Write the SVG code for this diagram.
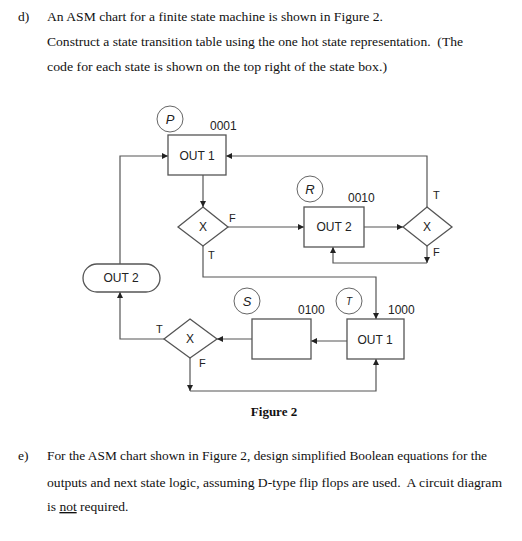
<svg xmlns="http://www.w3.org/2000/svg" width="522" height="541" viewBox="0 0 522 541">
<defs>
<marker id="ah" viewBox="0 0 10 10" refX="10" refY="5" markerWidth="6" markerHeight="6" markerUnits="userSpaceOnUse" orient="auto">
<path d="M0,0 L10,5 L0,10 z" fill="#222"/>
</marker>
</defs>
<style>
.para{font-family:"Liberation Serif","Times New Roman",serif;font-size:13.5px;fill:#111}
.lbl{font-family:"Liberation Sans",Arial,sans-serif;font-size:12px;fill:#222}
.sm{font-family:"Liberation Sans",Arial,sans-serif;font-size:11px;fill:#222}
.st{font-family:"Liberation Sans",Arial,sans-serif;font-size:13px;font-style:italic;fill:#222}
.box{fill:#fff;stroke:#555;stroke-width:1.3}
.circ{fill:#fff;stroke:#666;stroke-width:1}
.ln{fill:none;stroke:#555;stroke-width:1.2}
.arr{fill:none;stroke:#555;stroke-width:1.2;marker-end:url(#ah)}
</style>
<rect width="522" height="541" fill="#fff"/>
<g id="question-d">
<text class="para" x="18" y="21">d)</text>
<text class="para" x="47" y="21" textLength="336" lengthAdjust="spacingAndGlyphs">An ASM chart for a finite state machine is shown in Figure 2.</text>
<text class="para" x="47" y="46" textLength="416" lengthAdjust="spacingAndGlyphs" xml:space="preserve">Construct a state transition table using the one hot state representation.  (The</text>
<text class="para" x="47" y="71" textLength="340" lengthAdjust="spacingAndGlyphs">code for each state is shown on the top right of the state box.)</text>
</g>
<g id="connectors">
<polyline class="arr" points="120,264 120,156 168,156"/>
<polyline class="arr" points="427,207 427,156 226,156"/>
<polyline class="arr" points="203,175 203,207"/>
<polyline class="arr" points="228,227 304,227"/>
<polyline class="arr" points="203,246 203,277 376,277 376,319"/>
<polyline class="arr" points="364,227 403,227"/>
<polyline class="arr" points="427,246 427,263"/>
<polyline class="arr" points="427,263 333,263 333,247"/>
<polyline class="arr" points="347,341 311,341"/>
<polyline class="arr" points="252,339 217,339"/>
<polyline class="arr" points="164,339 120,339 120,292"/>
<polyline class="arr" points="190,358 190,391"/>
<polyline class="arr" points="190,391 376,391 376,359"/>
</g>
<g id="state-P">
<circle class="circ" cx="170" cy="119" r="13"/>
<text class="st" x="170" y="124" text-anchor="middle">P</text>
<text class="lbl" x="210" y="130">0001</text>
<rect class="box" x="168" y="135" width="58" height="40"/>
<text class="lbl" x="197" y="160" text-anchor="middle">OUT 1</text>
</g>
<g id="decision-P">
<polygon class="box" points="203,207 228,227 203,246 178,227"/>
<text class="lbl" x="203" y="231" text-anchor="middle">X</text>
<text class="sm" x="229" y="222">F</text>
<text class="sm" x="208" y="259">T</text>
</g>
<g id="state-R">
<circle class="circ" cx="310" cy="189" r="13"/>
<text class="st" x="310" y="194" text-anchor="middle">R</text>
<text class="lbl" x="348" y="202">0010</text>
<rect class="box" x="304" y="207" width="60" height="40"/>
<text class="lbl" x="334" y="231" text-anchor="middle">OUT 2</text>
</g>
<g id="decision-R">
<polygon class="box" points="427,207 452,227 427,246 403,227"/>
<text class="lbl" x="427" y="231" text-anchor="middle">X</text>
<text class="sm" x="433" y="199">T</text>
<text class="sm" x="433" y="256">F</text>
</g>
<g id="output-OUT2">
<rect class="box" x="83" y="264" width="77" height="28" rx="14" ry="14"/>
<text class="lbl" x="121" y="282" text-anchor="middle">OUT 2</text>
</g>
<g id="state-S">
<circle class="circ" cx="247" cy="301" r="13"/>
<text class="st" x="247" y="306" text-anchor="middle">S</text>
<text class="lbl" x="298" y="314">0100</text>
<rect class="box" x="252" y="319" width="59" height="40"/>
</g>
<g id="state-T">
<circle class="circ" cx="349" cy="301" r="13"/>
<text class="st" x="349" y="305" text-anchor="middle" style="font-size:10px">T</text>
<text class="lbl" x="388" y="314">1000</text>
<rect class="box" x="347" y="319" width="57" height="40"/>
<text class="lbl" x="375" y="344" text-anchor="middle">OUT 1</text>
</g>
<g id="decision-S">
<polygon class="box" points="190,319 217,339 190,358 164,339"/>
<text class="lbl" x="190" y="343" text-anchor="middle">X</text>
<text class="sm" x="156" y="333">T</text>
<text class="sm" x="199" y="367">F</text>
</g>
<text x="274" y="416" text-anchor="middle" style="font-family:'Liberation Serif','Times New Roman',serif;font-size:13px;font-weight:bold;fill:#111">Figure 2</text>
<g id="question-e">
<text class="para" x="18" y="460">e)</text>
<text class="para" x="47" y="460" textLength="440" lengthAdjust="spacingAndGlyphs">For the ASM chart shown in Figure 2, design simplified Boolean equations for the</text>
<text class="para" x="47" y="487" textLength="455" lengthAdjust="spacingAndGlyphs" xml:space="preserve">outputs and next state logic, assuming D-type flip flops are used.  A circuit diagram</text>
<text class="para" x="47" y="511">is <tspan text-decoration="underline">not</tspan> required.</text>
</g>
</svg>
